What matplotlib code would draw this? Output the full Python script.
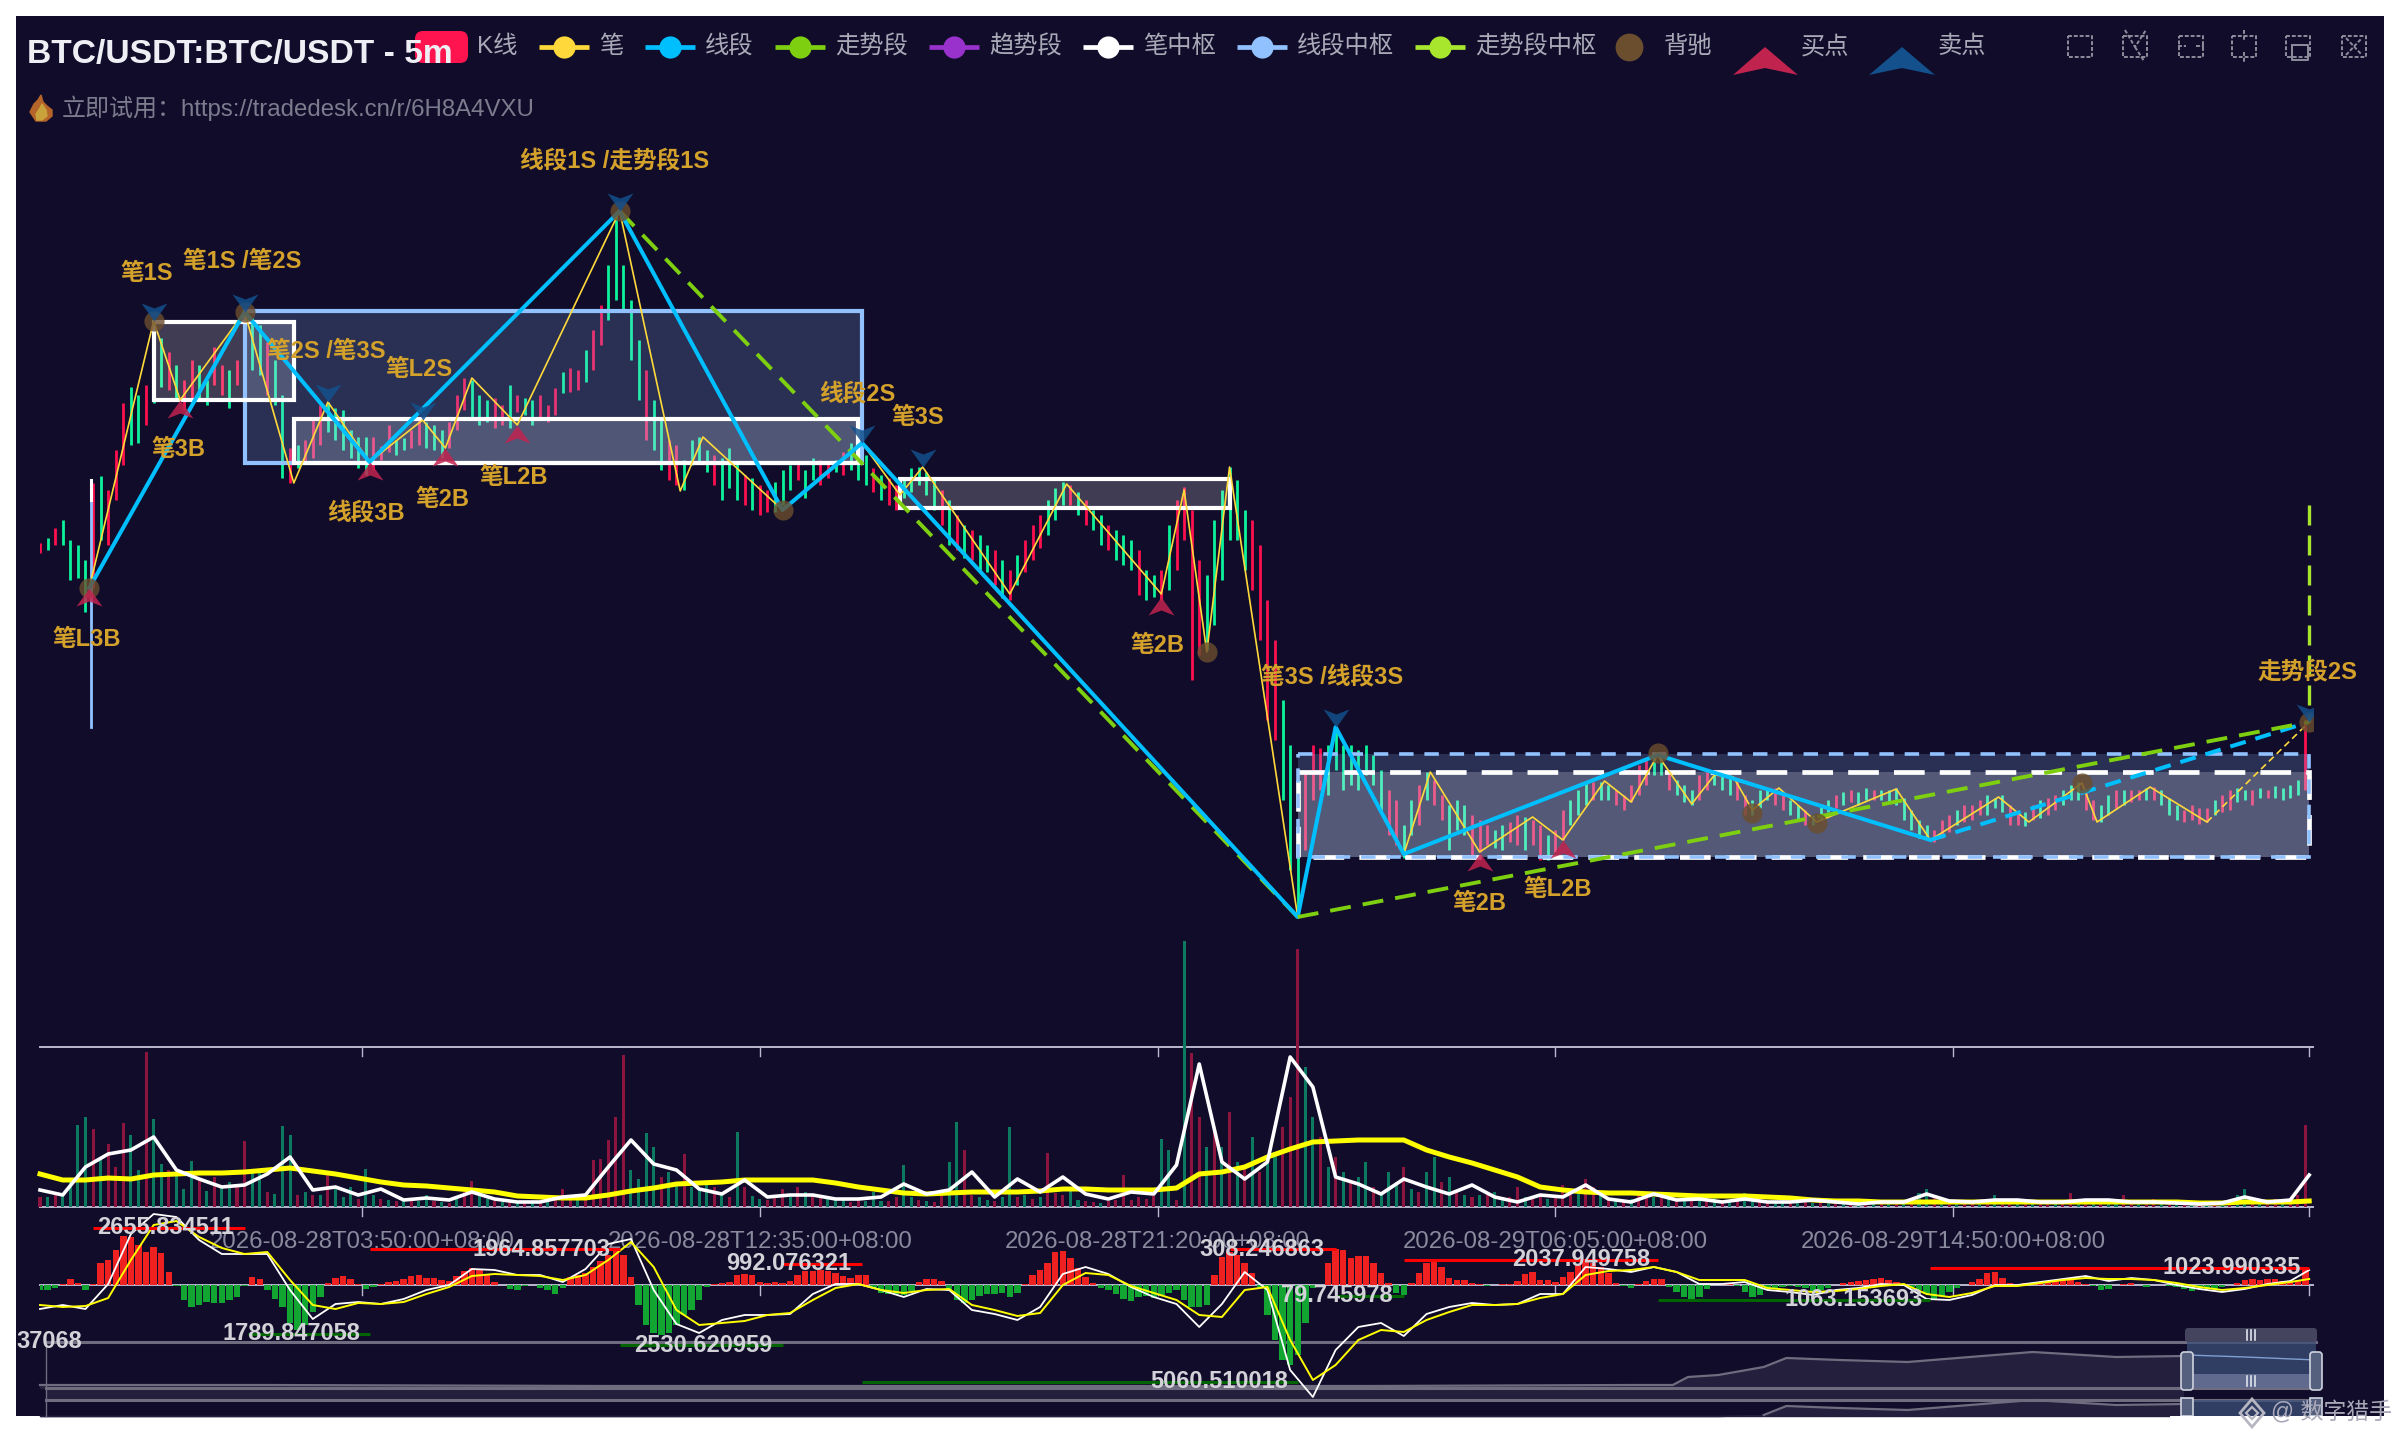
import numpy as np
import matplotlib
matplotlib.use("Agg")
import matplotlib.pyplot as plt
from matplotlib.patches import Rectangle, Polygon, FancyBboxPatch
from matplotlib.path import Path

plt.rcParams['font.family'] = ['Liberation Sans', 'Noto Sans CJK SC', 'DejaVu Sans']

W, H = 2400, 1440
BAR_PX = 2273 / 600

# --- candles (one every 2 bars) ---
candle_top = [
    543, 538, 528, 520, 540, 545, 560, 483, 476, 490, 450, 403, 387, 395, 385, 323, 338, 352, 365, 380,
    360, 365, 380, 347, 365, 370, 360, 312, 318, 325, 342, 360, 395, 448, 445, 440, 420, 405, 402, 408,
    410, 430, 437, 437, 437, 446, 425, 440, 438, 430, 420, 422, 425, 430, 422, 395, 378, 380, 395, 400,
    398, 405, 385, 395, 398, 400, 395, 405, 388, 372, 368, 370, 350, 330, 305, 265, 212, 265, 300, 340,
    370, 400, 420, 440, 445, 460, 440, 437, 450, 455, 458, 448, 462, 475, 478, 485, 490, 482, 470, 465,
    462, 470, 458, 460, 462, 460, 452, 443, 445, 455, 468, 475, 478, 485, 478, 468, 467, 472, 478, 490,
    500, 515, 525, 530, 535, 545, 550, 560, 570, 555, 540, 525, 515, 500, 488, 482, 485, 492, 500, 510,
    515, 525, 530, 535, 540, 550, 570, 575, 570, 525, 500, 487, 510, 560, 575, 520, 490, 467, 480, 510,
    520, 545, 600, 640, 700, 745, 840, 770, 745, 748, 745, 727, 745, 745, 750, 745, 755, 770, 790, 800,
    825, 800, 785, 772, 780, 795, 805, 800, 805, 815, 820, 825, 830, 825, 822, 815, 817, 820, 825, 835,
    830, 810, 800, 790, 782, 782, 782, 785, 790, 795, 785, 765, 758, 752, 755, 770, 780, 785, 790, 775,
    770, 772, 772, 775, 780, 795, 800, 790, 788, 788, 795, 800, 805, 810, 815, 805, 800, 795, 792, 790,
    792, 788, 790, 790, 790, 788, 798, 810, 820, 825, 830, 820, 815, 810, 805, 805, 800, 795, 798, 795,
    805, 812, 812, 805, 800, 798, 795, 790, 785, 782, 790, 800, 805, 795, 790, 790, 790, 790, 788, 787,
    790, 798, 805, 810, 805, 808, 808, 800, 795, 790, 788, 790, 790, 788, 790, 786, 788, 785, 780, 720,
]
candle_bottom = [
    553, 550, 545, 545, 580, 578, 612, 588, 540, 545, 500, 465, 445, 443, 425, 403, 387, 390, 400, 410,
    398, 400, 405, 385, 395, 408, 385, 362, 370, 375, 395, 405, 478, 483, 468, 462, 458, 445, 432, 440,
    450, 458, 468, 475, 470, 460, 452, 455, 450, 448, 445, 448, 450, 458, 448, 430, 410, 420, 425, 422,
    428, 425, 428, 412, 415, 425, 420, 422, 415, 393, 392, 390, 382, 370, 345, 320, 300, 310, 360, 400,
    440, 450, 470, 480, 485, 490, 465, 462, 472, 485, 500, 488, 500, 505, 510, 515, 512, 512, 505, 490,
    480, 498, 480, 485, 478, 472, 475, 470, 480, 485, 492, 500, 505, 510, 498, 492, 485, 495, 510, 525,
    545, 550, 558, 560, 570, 572, 585, 598, 600, 585, 572, 560, 548, 535, 520, 505, 505, 515, 525, 530,
    545, 550, 560, 565, 570, 595, 600, 597, 600, 590, 570, 540, 680, 655, 650, 625, 580, 540, 540, 570,
    590, 640, 720, 740, 800, 870, 917, 850, 800, 790, 795, 770, 790, 785, 790, 775, 785, 810, 835, 845,
    858, 835, 825, 800, 805, 820, 850, 830, 835, 855, 852, 845, 848, 850, 842, 845, 850, 845, 860, 860,
    852, 840, 825, 815, 805, 800, 800, 800, 805, 810, 802, 795, 785, 775, 775, 790, 795, 802, 805, 800,
    790, 785, 790, 795, 800, 815, 815, 808, 800, 805, 810, 815, 820, 825, 825, 820, 812, 808, 805, 802,
    805, 800, 800, 800, 802, 805, 820, 830, 838, 840, 842, 838, 832, 825, 822, 820, 815, 815, 808, 812,
    825, 825, 826, 820, 818, 815, 810, 805, 800, 800, 810, 820, 822, 815, 808, 805, 802, 800, 800, 800,
    805, 815, 820, 822, 820, 824, 822, 815, 812, 810, 802, 800, 805, 798, 798, 798, 800, 798, 795, 790,
]
candle_dir = (
    "RGRGGGGRGRRRGGRGGRGRRGGRRGRRGGRGGRGRRRGGGGGGRRRGGRRGGGRRRGGGRRGRGGRRRGRRGRRGGGGGRGGRRGGGGRGGGRGRRGGGRGGRRGRG"
    "GGRGRRGGGGGRGRGRGGRGRGRRRGGGRGRGGRGGGRGGRGRRRRGGGGGGRRRRGGGRRRGGGGGGGGRRGGRG"
    "RRGGGRRRGGRRGRRGRRGGGRGGRRRRRGGRGGGRRGGGRRGGGRRGGRGGGRGRGGRGGGGGGGRRRGRRRGGGRRGRGRRGGGRRGGRGRRGRGGGRRRRGRRGG"
)

# --- 笔 / 线段 / 走势段 turning points: bar index and screen row ---
bi_bar = [13, 30, 37, 54, 67, 76, 87, 101, 107, 114, 126, 153, 169, 175, 196, 217, 227, 233, 256, 271, 296, 302, 308,
          314, 332, 342, 360, 367, 380, 394, 402, 413, 420, 427, 436, 442, 447, 452, 459, 469, 490, 499, 517, 525,
          539, 543, 557, 572]
bi_row = [588, 321, 400, 312, 483, 402, 462, 420, 448, 378, 425, 211, 491, 437, 510, 443, 495, 467, 594, 484, 594, 490,
          652, 467, 917, 727, 854, 772, 852, 817, 840, 781, 802, 755, 804, 775, 777, 810, 788, 822, 789, 840, 797, 822,
          783, 822, 787, 822]
bi_pending_bar = [572, 599]
bi_pending_row = [822, 722]

seg_bar = [13, 54, 87, 153, 196, 217, 332, 342, 360, 427, 499]
seg_row = [588, 312, 462, 211, 510, 443, 917, 727, 854, 755, 840]
seg_pending_bar = [499, 599]
seg_pending_row = [840, 722]

trend_bar = [153, 332, 599]
trend_row = [211, 917, 722]

# pivots: first bar, last bar, top row, bottom row
bi_box = [[30, 67, 322, 400], [67, 216, 419, 463], [227, 314, 479, 508]]
seg_box = [[54, 217, 311, 463]]
last_bi_box = [332, 599, 772, 857]
last_seg_box = [332, 599, 754, 857]

sell_bar = [30, 54, 76, 101, 153, 217, 233, 342, 599]
sell_row = [321, 312, 402, 420, 211, 443, 467, 727, 722]
buy_bar = [13, 37, 87, 107, 126, 296, 380, 402]
buy_row = [588, 400, 462, 448, 425, 597, 853, 840]
div_bar = [13, 30, 54, 153, 196, 308, 427, 452, 469, 539, 599]
div_row = [588, 321, 312, 211, 510, 652, 753, 813, 823, 783, 722]

label_text = ["线段1S /走势段1S", "笔1S", "笔1S /笔2S", "笔2S /笔3S", "笔L2S", "线段2S", "笔3S", "笔3B", "线段3B", "笔2B",
              "笔L2B", "笔L3B", "笔2B", "笔3S /线段3S", "走势段2S", "笔2B", "笔L2B"]
label_x = [615, 147, 242, 326, 419, 857, 918, 178, 366, 442, 514, 87, 1157, 1332, 2307, 1479, 1558]
label_y = [161, 273, 261, 351, 369, 394, 417, 450, 513, 499, 477, 640, 646, 677, 672, 903, 890]

# --- volume, one every 2 bars: up bars positive, down bars negative ---
volume = [
    10, -10, 13, -12, -25, -82, -90, 78, -50, 63, 40, 84, -72, -37, 155, -88, -43, 37, -32, -18,
    -46, 28, -16, 30, -22, -25, 22, 66, -35, -38, 15, -13, -81, -72, 12, -15, 12, -12, 33, -18,
    -10, -20, 8, -38, -12, 8, -7, 6, -8, 6, -6, -12, 6, -5, 4, -8, 15, 26, -12, -8,
    6, -5, 6, -4, 5, -5, 6, -7, 8, 18, 12, -10, 12, 47, 48, 67, 90, 152, -37, -28,
    -74, -60, 30, -35, -25, 53, -20, -17, -22, 20, -12, 10, -75, 20, -11, -8, 7, 12, 18, -10,
    20, -15, 12, 10, -8, -7, -9, 5, 8, -6, -15, -6, 6, 10, -42, -10, 7, -6, 5, 15,
    -45, -85, 57, 12, -10, -7, 6, -10, -80, 10, -12, 8, -10, 54, 14, 12, -20, -7, 6, 5,
    -4, 6, 7, 32, 7, 10, 8, 11, -68, -57,
    7, -266, 154, 90, -60, 80, -60, 95, -45, 40, -70, 35, -45, -55, 80, 110, 258, -140, -90, 70,
    -40, 50, -35, 25, -30, -45, 20, -15, -35, -25, 40, -18, 15, -35, -50, 25, -30, 15, -12, 10,
    -12, 14, -15, -10, 10, 20, -10, 8, 10, -8, 10, 22, 12, -14, 28, 20, -12, 8, -6, 5,
    -8, 14, 12, -10, 15, -8, 6, -7, 7, -8, 6, -12, 6, -5, 7, -14, -10, 8, 5, -6,
    -9, 5, -6, 5, -4, 6, -5, 4, -5, 4, -5, 5, -4, 5, -4, 3, -4, 5, -14, -18,
    12, -6, 5, -5, 4, 5, -5, 6, -12, 7, 5, -4, 6, -5, 4, 6, -5, 5, 14, -6,
    5, -4, 6, -5, -5, 12, 4, -5, 6, 8, -4, 5, -4, 6, -5, 4, -5, 6, -5, 4,
    -12, -18, 5, -6, 4, 8, -5, 6, 12, 82,
]
# fast / slow volume averages, one point every 6 bars, plus the closing bar
vol_fast = [17, 12, 40, 53, 57, 70, 37, 28, 20, 22, 33, 50, 17, 20, 12, 18, 7, 9, 7, 15, 8, 5, 5, 10, 12, 40, 67, 43, 37, 18,
            13, 27, 10, 12, 12, 8, 8, 10, 23, 13, 17, 35, 10, 28, 15, 30, 13, 8, 15, 13, 42, 143, 45, 28, 45, 150, 120, 30,
            23, 13, 28, 20, 13, 22, 10, 5, 12, 10, 22, 8, 5, 13, 7, 8, 5, 8, 5, 5, 7, 5, 3, 5, 5, 13, 6, 5, 7, 7, 5, 5, 7, 7,
            5, 5, 4, 3, 4, 10, 5, 7, 32]
vol_slow = [33, 27, 27, 29, 28, 32, 33, 34, 34, 35, 37, 39, 36, 33, 29, 25, 22, 21, 19, 17, 15, 11, 10, 9, 9, 12, 16, 19, 23,
            24, 25, 27, 27, 27, 27, 24, 20, 17, 14, 13, 14, 15, 15, 15, 16, 18, 18, 17, 17, 17, 19, 33, 35, 40, 50, 58, 65,
            66, 67, 67, 67, 57, 50, 44, 37, 30, 20, 17, 15, 14, 14, 13, 12, 11, 11, 11, 10, 9, 7, 6, 6, 5, 5, 5, 5, 5, 5, 5,
            5, 5, 5, 5, 5, 5, 5, 4, 4, 5, 5, 5, 6]

# --- MACD, histogram one every 2 bars, lines one point every 6 bars ---
macd_hist = [
    -5, -5, -3, 1, 6, 2, -5, 1, 22, 25, 35, 49, 48, 40, 33, 38, 32, 13, -1, -15,
    -22, -20, -17, -18, -18, -15, -12, -1, 8, 6, -5, -14, -22, -38, -45, -40, -27, -12, 2, 7,
    9, 6, 1, -4, -2, 1, 3, 4, 6, 9, 10, 7, 7, 5, 4, 9, 14, 17, 15, 10,
    3, 0, -4, -5, -1, 0, -3, -5, -9, -3, 8, 10, 12, 18, 24, 30, 36, 30, 8, -20,
    -40, -48, -50, -48, -40, -30, -25, -15, -2, 1, 2, 3, 10, 11, 10, 3, 2, 3, 2, 4,
    10, 14, 14, 15, 14, 12, 9, 7, 10, 10, -3, -8, -9, -9, -10, -6, 3, 6, 6, 4,
    -6, -15, -18, -15, -11, -9, -9, -8, -12, -8, 1, 10, 15, 22, 33, 34, 27, 17, 8, 2,
    -3, -5, -9, -14, -16, -12, -11, -13, -10, -8, -5, -15, -22, -22, -20, 10, 28, 33, 30, 22,
    12, -3, -30, -55, -75, -80, -70, -38, -3, -2, 22, 36, 35, 27, 29, 29, 22, 12, 2, -8,
    -10, 2, 12, 22, 25, 18, 7, 5, 5, 2, 1, -1, 0, 1, 1, 4, 11, 13, 5, 5,
    3, 8, 13, 20, 24, 22, 18, 12, 2, -1, -3, 1, 4, 6, 6, -2, -7, -12, -14, -12,
    -4, 0, 1, 1, -1, -7, -12, -10, -5, -3, -2, -1, -2, -3, -7, -5, -3, 0, 2, 3,
    4, 5, 6, 7, 5, 3, 1, -2, -5, -9, -14, -11, -7, -3, 0, 3, 6, 12, 13, 7,
    2, 1, 2, 1, 2, 3, 4, 5, 5, 3, 1, -1, -5, -4, 0, 1, 2, 0, -2, 0,
    0, -1, -2, -4, -6, -4, -4, -4, -2, 0, 2, 5, 6, 5, 6, 6, 4, 3, 4, 16,
]
macd_diff = [-24, -20, -24, 1, 51, 71, 68, 45, 31, 31, 31, -5, -34, -19, -17, -19, -14, -5, 0, 16, 15, 10, 10, 3, 16, 41, 46,
             -5, -39, -48, -35, -30, -30, -29, -9, 1, 1, -5, -12, -4, -5, -25, -29, -35, -22, 11, 18, 11, -2, -12, -19, -42,
             -19, 13, -5, -85, -112, -65, -42, -38, -51, -29, -22, -18, -20, -19, -9, -9, 18, 16, 13, 18, 13, 1, 1, 3, -5,
             -7, -10, -5, -3, 1, 0, -14, -15, -10, 0, 0, 3, 6, 9, 4, 7, 5, 0, -4, -7, -4, 1, 4, 15]
macd_dea = [-20, -22, -21, -13, 25, 60, 64, 48, 37, 31, 33, 5, -20, -24, -18, -19, -17, -9, -2, 9, 11, 10, 9, 5, 10, 25, 43,
            18, -25, -40, -38, -36, -30, -28, -15, -3, 1, -5, -8, -5, -4, -20, -25, -31, -28, 0, 12, 10, -1, -8, -15, -30,
            -32, -5, -2, -55, -95, -80, -55, -45, -47, -35, -27, -20, -20, -19, -13, -9, 10, 14, 15, 18, 13, 5, 5, 5, -3,
            -5, -7, -6, -4, -1, 1, -9, -12, -8, -1, -1, 2, 5, 7, 6, 6, 5, 2, -2, -5, -3, 0, 3, 6]

# mark lines of the MACD panel: first bar, last bar, level
peak_start = [14, 87, 196, 314, 360, 499]
peak_end = [54, 153, 217, 342, 427, 599]
peak_level = [57, 36, 21, 36, 25, 17]
trough_start = [55, 153, 217, 342, 427]
trough_end = [87, 196, 332, 360, 499]
trough_level = [-49, -60, -97, -11, -15]

macd_text = ["2655.834511", "1964.857703", "992.076321", "1789.847058", "2530.620959", "37068", "5060.510018",
             "308.246863", "79.745978", "2037.949758", "1063.153693", "1023.990335"]
macd_text_x = [166, 542, 789, 291, 703, 49, 1219, 1262, 1337, 1581, 1854, 2232]
macd_text_y = [1228, 1249, 1264, 1334, 1346, 1341, 1381, 1249, 1296, 1260, 1300, 1268]

tick_bar = [85, 190, 295, 400, 505, 599]
tick_labels = ["2026-08-28T03:50:00+08:00", "2026-08-28T12:35:00+08:00", "2026-08-28T21:20:00+08:00",
               "2026-08-29T06:05:00+08:00", "2026-08-29T14:50:00+08:00"]

# overview outline of the data zoom slider
slider_bar = [0, 60, 150, 250, 350, 420, 431, 435, 443, 455, 461, 475, 493, 516, 526, 548, 566]
slider_row = [385, 385, 386, 386, 386, 385, 385, 377, 375, 367, 358, 360, 362, 355, 352, 357, 356]

# legend
legend_names = ["笔", "线段", "走势段", "趋势段", "笔中枢", "线段中枢", "走势段中枢"]
legend_colors = ["#ffd93b", "#00bfff", "#7ecf10", "#9932cc", "#ffffff", "#91c2ff", "#a8e62e"]
legend_left = [539, 645, 775, 929, 1083, 1237, 1415]

BG = "#100c2a"
UP = "#fd1050"
DOWN = "#0cf49b"
GOLD = "#d4a12a"
AXIS = "#b9b8ce"


def px_axes(fig, left, top, right, bottom):
    ax = fig.add_axes([left / W, 1 - bottom / H, (right - left) / W, (bottom - top) / H])
    ax.axis("off")
    ax.patch.set_alpha(0)
    return ax


def arrow_path(up):
    s = -1 if up else 1
    return Path([(0, 0), (0.72, s), (0, 0.72 * s), (-0.72, s), (0, 0)],
                [Path.MOVETO, Path.LINETO, Path.LINETO, Path.LINETO, Path.CLOSEPOLY])


def draw_chrome(ax):
    ax.add_patch(Rectangle((16, 16), 2368, 1400, fc=BG, ec="none", zorder=0))

    # title
    ax.add_patch(FancyBboxPatch((421, 37), 41, 20, boxstyle="round,pad=6,rounding_size=8", fc="#ff1450", ec="none", zorder=1))
    ax.text(27, 54, "BTC/USDT:BTC/USDT - 5m", color="#eeeef5", fontsize=24.2, fontweight="bold", va="center", zorder=5)
    ax.text(477, 47, "K线", color="#a9a9b8", fontsize=17.5, va="center", zorder=5)

    # flame emoji of the subtitle
    ax.fill([30, 34, 38, 41, 43, 47, 52, 52, 46, 36, 30], [112, 104, 100, 95, 102, 106, 110, 116, 121, 121, 112], color="#b5642a", zorder=5)
    ax.fill([36, 40, 42, 46, 47, 42, 37], [114, 108, 104, 110, 116, 120, 120], color="#c9a23c", zorder=6)
    ax.text(62, 108, "立即试用：https://tradedesk.cn/r/6H8A4VXU", color="#7c7c8e", fontsize=17.3, va="center", zorder=5)

    # legend
    for name, color, x in zip(legend_names, legend_colors, legend_left):
        ax.plot([x, x + 50], [47, 47], color=color, lw=3.4, solid_capstyle="butt", zorder=3)
        ax.plot(x + 25, 47, "o", color=color, ms=16, mec="none", zorder=4)
        ax.text(x + 60, 47, name, color="#a9a9b8", fontsize=17.5, va="center", zorder=5)
    ax.plot(1629, 47, "o", color="#6b4e2e", ms=20, mec="none", zorder=4)
    ax.text(1664, 47, "背驰", color="#a9a9b8", fontsize=17.5, va="center", zorder=5)
    ax.add_patch(Polygon([(1765, 47), (1798, 75), (1765, 68), (1733, 75)], fc="#c1234f", ec="none", zorder=4))
    ax.text(1801, 47, "买点", color="#a9a9b8", fontsize=17.5, va="center", zorder=5)
    ax.add_patch(Polygon([(1902, 47), (1935, 75), (1902, 68), (1869, 75)], fc="#14508c", ec="none", zorder=4))
    ax.text(1937, 47, "卖点", color="#a9a9b8", fontsize=17.5, va="center", zorder=5)

    # toolbox icons
    icon = dict(color="#8d8d9e", lw=1.4, ls=(0, (2, 1)), zorder=4)
    for x in [2080, 2135, 2191, 2244, 2298, 2354]:
        ax.plot([x - 12, x + 12, x + 12, x - 12, x - 12], [36, 36, 57, 57, 36], **icon)
    ax.plot([2125, 2135, 2146], [30, 47, 30], **icon)
    ax.plot([2135, 2144], [47, 61], **icon)
    ax.plot([2178, 2186], [46, 46], **icon)
    ax.plot([2196, 2204], [46, 46], **icon)
    ax.plot([2244, 2244], [30, 40], **icon)
    ax.plot([2244, 2244], [52, 62], **icon)
    ax.plot([2292, 2308, 2308, 2292, 2292], [45, 45, 60, 60, 45], color="#8d8d9e", lw=1.4, zorder=4)
    ax.plot([2346, 2362], [38, 55], **icon)
    ax.plot([2346, 2362], [55, 38], **icon)


def draw_slider(ax):
    row = np.array(slider_row) + 1000
    x = np.array(slider_bar) * BAR_PX + 40
    ax.fill_between(x, row, 1388, color="#241f3d", zorder=1)
    ax.plot(x, row, color="#6f6c80", lw=1.6, zorder=2)
    ax.add_patch(FancyBboxPatch((50, 1392), 2130, 4, boxstyle="round,pad=4,rounding_size=4", fc="#241f3d", ec="none", zorder=1))
    ax.plot([46, 2316], [1342, 1342], color="#6f6c80", lw=2.2, zorder=2)
    ax.plot([46, 2316], [1388, 1388], color="#6f6c80", lw=2.2, zorder=2)
    ax.plot([46, 2316], [1400, 1400], color="#6f6c80", lw=2.2, zorder=2)
    ax.plot([46, 46], [1342, 1416], color="#6f6c80", lw=1, zorder=2)

    # second copy of the slider, cut off by the frame
    lower = row + 48
    ax.fill_between(x, np.minimum(lower, 1416), 1416, color="#241f3d", zorder=1)
    ax.plot(x[lower < 1416], lower[lower < 1416], color="#6f6c80", lw=1.6, zorder=2)

    # selected window
    ax.add_patch(Rectangle((2187, 1342), 129, 46, fc="#3b4f78", alpha=0.75, ec="none", zorder=3))
    ax.add_patch(Rectangle((2187, 1374), 129, 14, fc="#5f6a8e", ec="none", zorder=3))
    ax.add_patch(Rectangle((2187, 1400), 129, 16, fc="#3b4f78", alpha=0.75, ec="none", zorder=3))
    ax.add_patch(FancyBboxPatch((2188, 1331), 126, 8, boxstyle="round,pad=3,rounding_size=3", fc="#45445e", ec="none", zorder=3))
    ax.plot([2187, 2245, 2316], [1355, 1357, 1360], color="#7f9fd0", lw=1, zorder=4)
    for row_iii in [1335, 1381]:
        for dx in [-4, 0, 4]:
            ax.plot([2251 + dx, 2251 + dx], [row_iii - 5, row_iii + 5], color="#dfe3ee", lw=1.2, zorder=5)
    for hx in [2187, 2316]:
        ax.add_patch(FancyBboxPatch((hx - 3, 1355), 6, 32, boxstyle="round,pad=3,rounding_size=3",
                                    fc="#55607f", ec="#cfd3de", lw=1.2, zorder=5))
        ax.add_patch(Rectangle((hx - 6, 1398), 12, 18, fc="#55607f", ec="#cfd3de", lw=1.2, zorder=5))
    ax.add_patch(Rectangle((2170, 1416), 160, 4, fc="white", ec="none", zorder=5.5))

    # watermark, it runs over the white margin
    ax.add_patch(Polygon([(2252, 1399), (2264, 1413), (2252, 1427), (2240, 1413)], fc="none", ec="#b7b7c2", lw=2, zorder=6))
    ax.add_patch(Polygon([(2252, 1407), (2258, 1413), (2252, 1419), (2246, 1413)], fc="none", ec="#b7b7c2", lw=1.6, zorder=6))
    ax.text(2271, 1413, "@ 数字猎手", color="#a8a8b8", fontsize=16.5, va="center", zorder=6)


def draw_main(ax):
    k_bar = np.arange(len(candle_top)) * 2
    colors = [UP if d == "R" else DOWN for d in candle_dir]
    ax.vlines(k_bar, candle_top, candle_bottom, colors=colors, lw=2.0, zorder=2)

    # pivots
    for box in bi_box:
        ax.add_patch(Rectangle((box[0], box[2]), box[1] - box[0], box[3] - box[2], fc=(1, 1, 1, 0.2), ec="none", zorder=3))
        ax.add_patch(Rectangle((box[0], box[2]), box[1] - box[0], box[3] - box[2], fc="none", ec="white", lw=3, zorder=5))
    for box in seg_box:
        ax.add_patch(Rectangle((box[0], box[2]), box[1] - box[0], box[3] - box[2], fc=(0.57, 0.76, 1, 0.2), ec="none", zorder=3))
        ax.add_patch(Rectangle((box[0], box[2]), box[1] - box[0], box[3] - box[2], fc="none", ec="#91c2ff", lw=3, zorder=4))

    b = last_seg_box
    ax.add_patch(Rectangle((b[0], b[2]), b[1] - b[0], b[3] - b[2], fc=(0.57, 0.76, 1, 0.2), ec="none", zorder=3))
    b = last_bi_box
    ax.add_patch(Rectangle((b[0], b[2]), b[1] - b[0], b[3] - b[2], fc=(1, 1, 1, 0.2), ec="none", zorder=3))
    ax.add_patch(Rectangle((b[0], b[2]), b[1] - b[0], b[3] - b[2], fc="none", ec="white", lw=3.4, ls=(0, (6.5, 3.2)), zorder=5))
    b = last_seg_box
    ax.add_patch(Rectangle((b[0], b[2]), b[1] - b[0], b[3] - b[2], fc="none", ec="#91c2ff", lw=2.6, ls=(0, (4, 3)), zorder=6))

    # degenerate pivot on the first bar
    ax.plot([13.5, 13.5], [480, 727], color="#91c2ff", lw=2, zorder=4)
    ax.plot([13.5, 13.5], [480, 500], color="white", lw=2.2, zorder=5)

    # strokes
    ax.plot(bi_bar, bi_row, color="#ffd93b", lw=1.2, zorder=6)
    ax.plot(bi_pending_bar, bi_pending_row, color="#ffd93b", lw=1.2, ls=(0, (4, 2.5)), zorder=6)
    ax.plot(seg_bar, seg_row, color="#00bfff", lw=2.9, zorder=7)
    ax.plot(seg_pending_bar, seg_pending_row, color="#00bfff", lw=2.9, ls=(0, (4, 2.5)), zorder=7)
    ax.plot(trend_bar[:2], trend_row[:2], color="#7ecf10", lw=2.8, ls=(0, (5.4, 3.1)), zorder=6.5)
    ax.plot(trend_bar[1:], trend_row[1:], color="#7ecf10", lw=2.8, ls=(0, (5.4, 3.1)), zorder=7)
    ax.plot([599, 599], [505, 722], color="#a8e62e", lw=2.4, ls=(0, (6, 3)), zorder=7)

    # signals
    ax.plot(div_bar, div_row, "o", color="#6b4e2e", alpha=0.8, ms=14.5, mec="none", zorder=8)
    ax.plot(buy_bar, buy_row, ls="none", marker=arrow_path(True), color="#c1234f", alpha=0.85, ms=26, mec="none", zorder=9)
    ax.plot(sell_bar, sell_row, ls="none", marker=arrow_path(False), color="#14508c", alpha=0.85, ms=26, mec="none", zorder=9)


def draw_volume(ax):
    k_bar = np.arange(len(volume)) * 2
    v = np.array(volume)
    colors = ["#8e1440" if n > 0 else "#0c7a60" for n in v]
    ax.bar(k_bar, np.abs(v), width=0.8, color=colors, clip_on=False, zorder=2)
    line_bar = list(range(0, 600, 6)) + [599]
    ax.plot(line_bar, vol_slow, color="#ffff00", lw=3.6, zorder=3, clip_on=False)
    ax.plot(line_bar, vol_fast, color="white", lw=2.6, zorder=4, clip_on=False)


def draw_macd(ax):
    k_bar = np.arange(len(macd_hist)) * 2
    hist = np.array(macd_hist)
    colors = ["#ee2020" if n > 0 else "#12a532" for n in hist]
    ax.bar(k_bar, hist, width=1.7, color=colors, zorder=2)
    line_bar = list(range(0, 600, 6)) + [599]
    ax.plot(line_bar, macd_diff, color="white", lw=1.3, zorder=4, clip_on=False)
    ax.plot(line_bar, macd_dea, color="#ffff00", lw=1.4, zorder=4, clip_on=False)
    ax.hlines(peak_level, peak_start, peak_end, color="#ff0000", lw=2.2, zorder=5)
    ax.hlines(trough_level, trough_start, trough_end, color="#006400", lw=2.2, zorder=5)


def draw_axes(ax):
    for row in [1047, 1207, 1285]:
        ax.plot([40, 2313], [row, row], color=AXIS, lw=1.4, zorder=3)
    tick_x = 40 + np.array(tick_bar) * BAR_PX
    for x in tick_x:
        ax.plot([x, x], [1047, 1056], color=AXIS, lw=1, zorder=3)
        ax.plot([x, x], [1207, 1216], color=AXIS, lw=1, zorder=3)
        ax.plot([x, x], [1285, 1295], color=AXIS, lw=1, zorder=3)
    for x, text in zip(tick_x, tick_labels):
        ax.text(x, 1242, text, color="#8a8a9e", fontsize=17.3, ha="center", va="center", zorder=3)


def draw_texts(ax):
    for text, x, y in zip(label_text, label_x, label_y):
        ax.text(x, y, text, color=GOLD, fontsize=17, fontweight="bold", ha="center", va="center", zorder=20)
    for text, x, y in zip(macd_text, macd_text_x, macd_text_y):
        ax.text(x, y, text, color="#d2d2d8", fontsize=17, fontweight="bold", ha="center", va="center", zorder=20)


def main():
    fig = plt.figure(figsize=(W / 100, H / 100), dpi=100, facecolor="white")

    canvas = fig.add_axes([0, 0, 1, 1])
    canvas.set_xlim(0, W)
    canvas.set_ylim(H, 0)
    canvas.axis("off")
    draw_chrome(canvas)
    draw_slider(canvas)
    draw_axes(canvas)

    ax_k = px_axes(fig, 40, 0, 2313, 1000)
    ax_k.set_xlim(0, 600)
    ax_k.set_ylim(1000, 0)
    draw_main(ax_k)

    ax_v = px_axes(fig, 40, 1047, 2313, 1207)
    ax_v.set_xlim(0, 600)
    ax_v.set_ylim(0, 160)
    draw_volume(ax_v)

    ax_m = px_axes(fig, 40, 1207, 2313, 1416)
    ax_m.set_xlim(0, 600)
    ax_m.set_ylim(-131, 78)
    draw_macd(ax_m)

    overlay = fig.add_axes([0, 0, 1, 1])
    overlay.set_xlim(0, W)
    overlay.set_ylim(H, 0)
    overlay.axis("off")
    overlay.patch.set_alpha(0)
    draw_texts(overlay)

    fig.savefig("out.png", dpi=100, facecolor="white")


if __name__ == "__main__":
    main()
